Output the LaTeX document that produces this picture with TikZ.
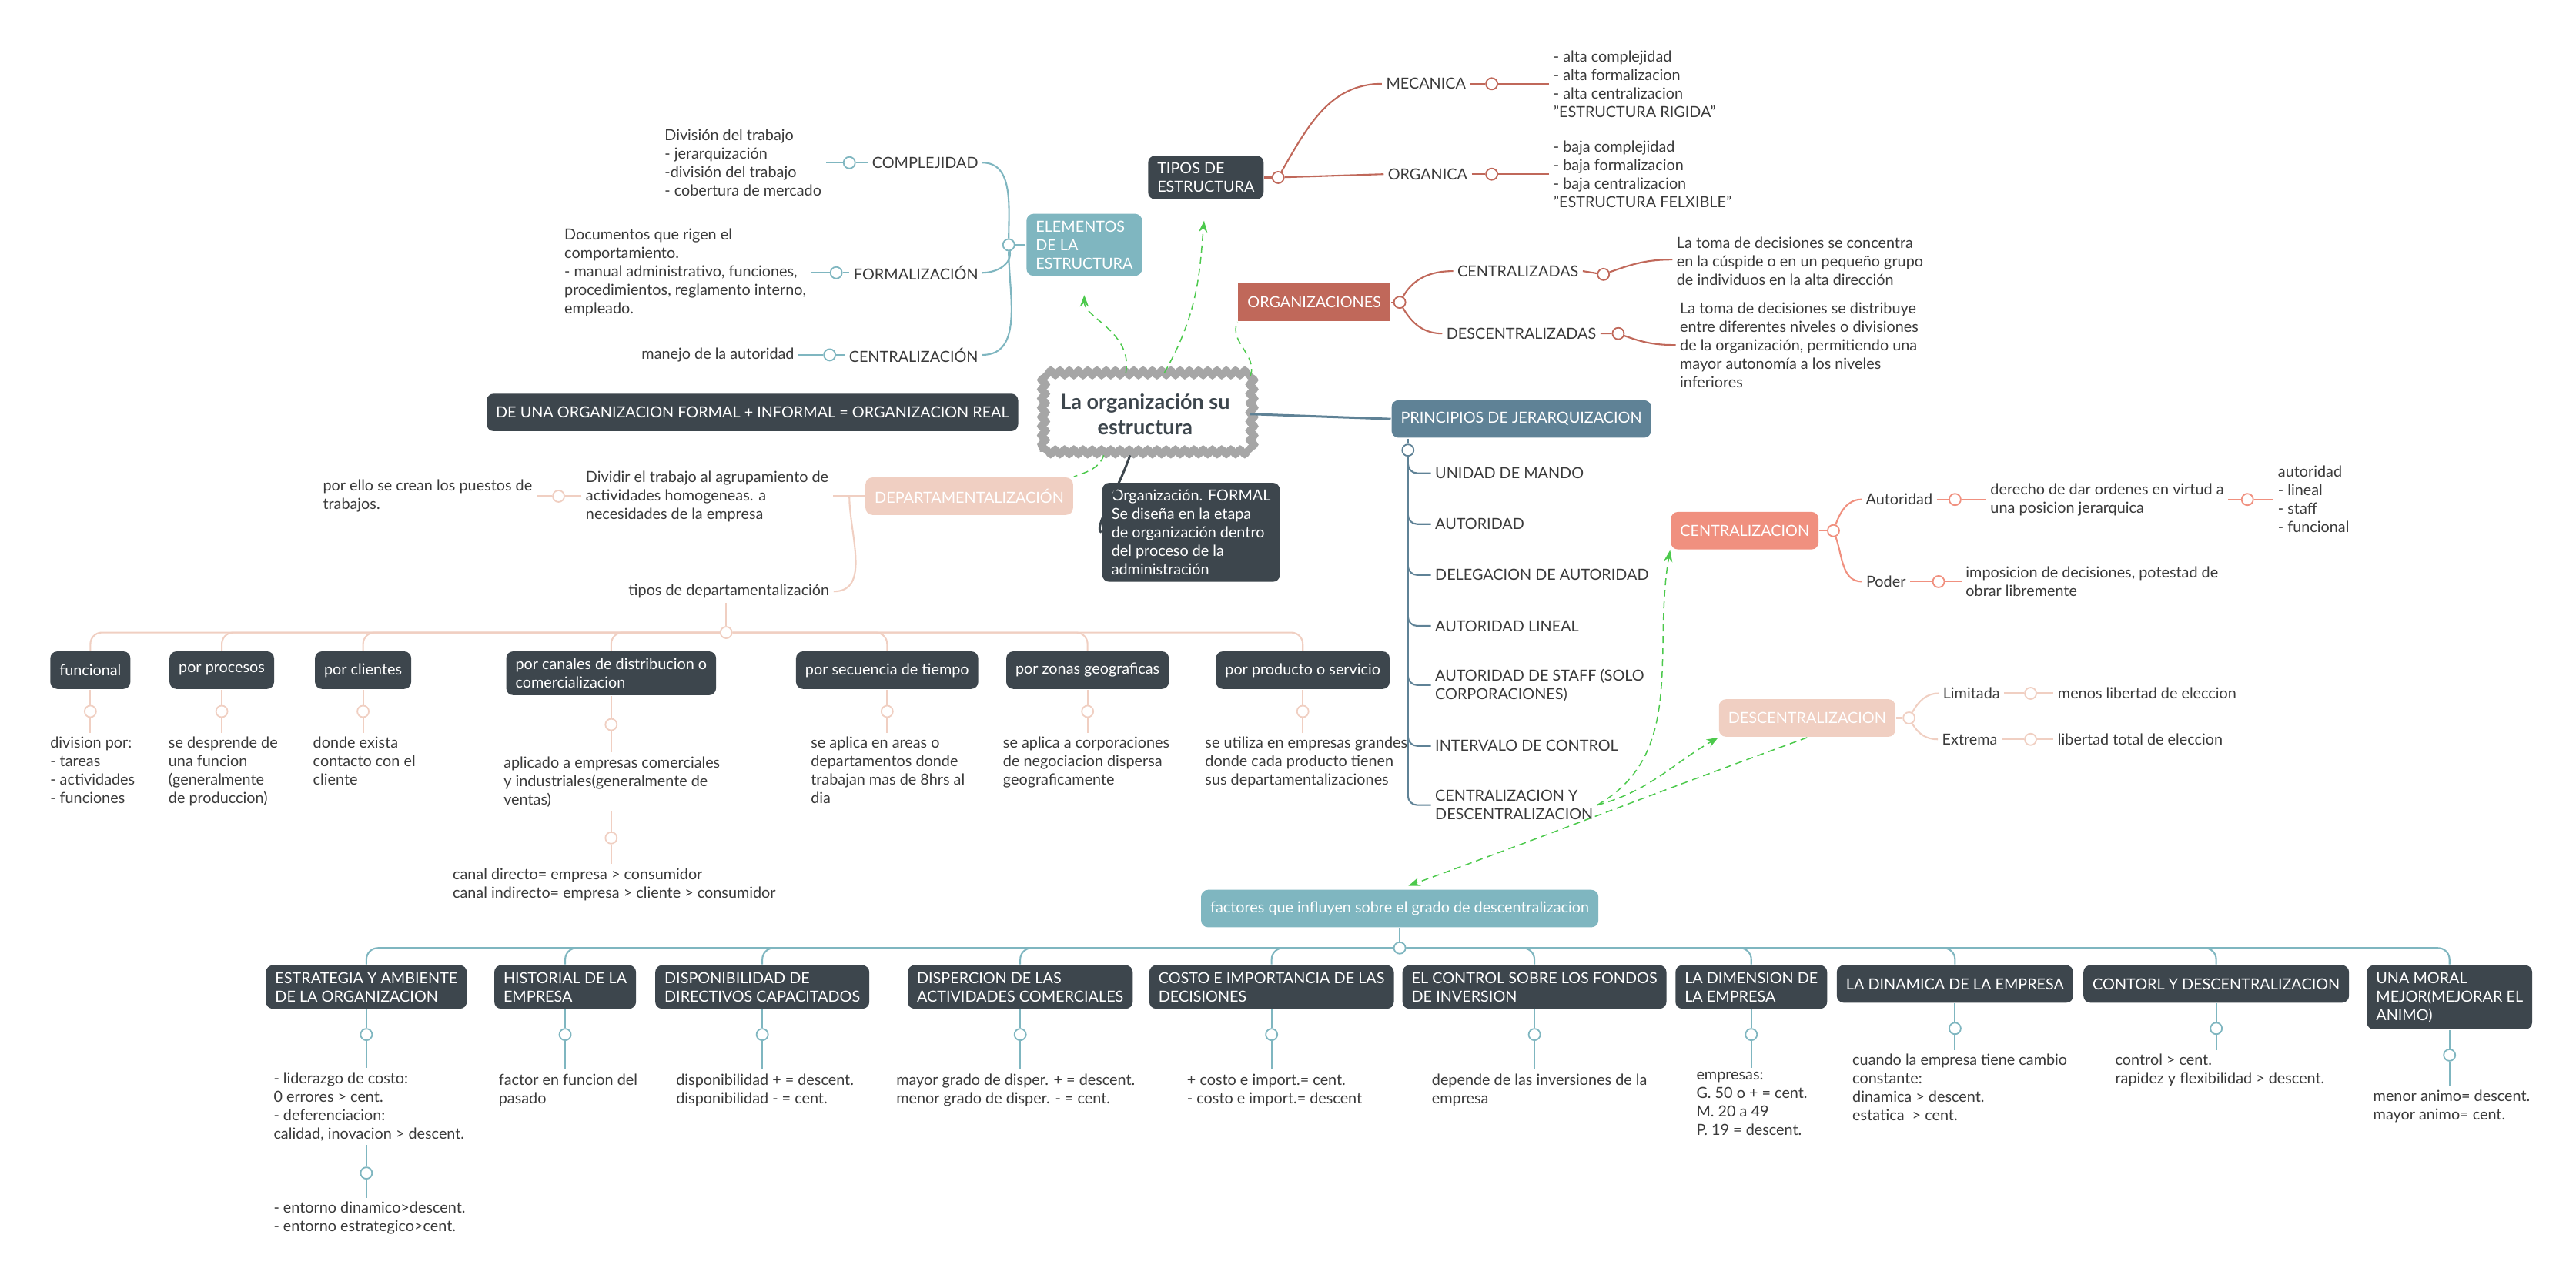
\documentclass[tikz,border=0pt]{standalone}
\usepackage{fontspec}
\setmainfont{Lato}
\usetikzlibrary{positioning,decorations.pathmorphing,arrows.meta}
\definecolor{dark}{HTML}{3D464D}
\definecolor{teal}{HTML}{7FB6C0}
\definecolor{rojo}{HTML}{C0685A}
\definecolor{salmon}{HTML}{F0907F}
\definecolor{light}{HTML}{F0CFC2}
\definecolor{slate}{HTML}{5F8296}
\definecolor{ink}{HTML}{3A3A3A}
\definecolor{relgreen}{HTML}{4CC94C}
\tikzset{
  box/.style={rounded corners=3pt, fill=dark, text=white, align=left,
    inner xsep=4pt, inner ysep=3pt, minimum height=0.57cm},
  lbl/.style={text=ink, align=left, inner sep=1.5pt},
  hub/.style={circle, draw, fill=white, inner sep=0, minimum size=5pt, line width=0.6pt},
  rel/.style={draw=relgreen, line width=0.5pt, densely dashed},
  relarr/.style={rel, -{Stealth[length=5pt]}}
}
\begin{document}
\begin{tikzpicture}[x=0.025cm, y=-0.025cm, font=\fontsize{6.6}{8}\selectfont, line width=0.7pt]
\useasboundingbox (0,0) rectangle (1568,782);

% central topic
\node[draw=gray!70, line width=3pt, decorate, decoration={snake, amplitude=1.1pt, segment length=4pt},
  fill=white, minimum width=3.1cm, minimum height=1.15cm, align=center, text=dark,
  font=\bfseries\fontsize{9}{11}\selectfont] (central) at (697,252) {La organización su\\estructura};

% elementos de la estructura
\node[box, fill=teal] (elem) at (660,149) {ELEMENTOS\\DE LA\\ESTRUCTURA};
\node[hub, draw=teal] (eh) at (614,149) {};
\node[lbl, anchor=east] (comp) at (598,99) {COMPLEJIDAD};
\node[hub, draw=teal] (ch) at (517,99) {};
\node[lbl, anchor=west] (compt) at (402,99) {División del trabajo\\- jerarquización\\-división del trabajo\\- cobertura de mercado};
\node[lbl, anchor=east] (form) at (598,166) {FORMALIZACIÓN};
\node[hub, draw=teal] (fh) at (509,166) {};
\node[lbl, anchor=west] (formt) at (341,166) {Documentos que rigen el\\comportamiento.\\- manual administrativo, funciones,\\procedimientos, reglamento interno,\\empleado.};
\node[lbl, anchor=east] (centr) at (598,216) {CENTRALIZACIÓN};
\node[hub, draw=teal] (zh) at (505,216) {};
\node[lbl, anchor=east] (centrt) at (486,216) {manejo de la autoridad};
\begin{scope}[draw=teal]
  \draw (elem.west) -- (eh);
  \draw (eh) to[out=90, in=0] (comp.east);
  \draw (eh) to[out=-90, in=0] (centr.east);
  \draw (eh) to[out=-80, in=0] (form.east);
  \draw (comp.west) -- (ch) -- (compt.east |- ch);
  \draw (form.west) -- (fh) -- (formt.east |- fh);
  \draw (centr.west) -- (zh) -- (centrt.east);
\end{scope}

% tipos de estructura
\node[box] (tipos) at (734,108) {TIPOS DE\\ESTRUCTURA};
\node[hub, draw=rojo] (th) at (778,108) {};
\node[lbl] (mec) at (868,51) {MECANICA};
\node[hub, draw=rojo] (mh) at (908,51) {};
\node[lbl, anchor=west] (mect) at (943,51) {- alta complejidad\\- alta formalizacion\\- alta centralizacion\\"ESTRUCTURA RIGIDA"};
\node[lbl] (org) at (869,106) {ORGANICA};
\node[hub, draw=rojo] (oh) at (908,106) {};
\node[lbl, anchor=west] (orgt) at (943,106) {- baja complejidad\\- baja formalizacion\\- baja centralizacion\\"ESTRUCTURA FELXIBLE"};
\begin{scope}[draw=rojo]
  \draw (tipos.east) -- (th);
  \draw (th) to[out=60, in=180] (mec.west);
  \draw (th) -- (org.west);
  \draw (mec.east) -- (mh) -- (mect.west);
  \draw (org.east) -- (oh) -- (orgt.west);
\end{scope}

% organizaciones
\node[box, fill=rojo, rounded corners=0pt, minimum width=2.25cm] (orgs) at (800,184) {ORGANIZACIONES};
\node[hub, draw=rojo] (gh) at (852,184) {};
\node[lbl] (cz) at (924,165) {CENTRALIZADAS};
\node[hub, draw=rojo] (czh) at (976,167) {};
\node[lbl, anchor=west] (czt) at (1018,159) {La toma de decisiones se concentra\\en la cúspide o en un pequeño grupo\\de individuos en la alta dirección};
\node[lbl] (dz) at (926,203) {DESCENTRALIZADAS};
\node[hub, draw=rojo] (dzh) at (985,203) {};
\node[lbl, anchor=west] (dzt) at (1020,210) {La toma de decisiones se distribuye\\entre diferentes niveles o divisiones\\de la organización, permitiendo una\\mayor autonomía a los niveles\\inferiores};
\begin{scope}[draw=rojo]
  \draw (orgs.east) -- (gh);
  \draw (gh) to[out=60, in=180] (cz.west);
  \draw (gh) to[out=-60, in=180] (dz.west);
  \draw (cz.east) -- (czh) to[out=20, in=180] (czt.west |- 0,158);
  \draw (dz.east) -- (dzh) to[out=-20, in=180] (dzt.west);
\end{scope}

% principios de jerarquizacion
\node[box, fill=slate] (princ) at (926,255) {PRINCIPIOS DE JERARQUIZACION};
\draw[slate, line width=1pt] (central.east) -- (princ.west);
\node[hub, draw=slate] (ph) at (857,274) {};
\draw[slate] (princ.south -| ph) -- (ph);
\foreach \t/\y [count=\i] in {UNIDAD DE MANDO/288, AUTORIDAD/319, DELEGACION DE AUTORIDAD/350,
    AUTORIDAD LINEAL/381, {AUTORIDAD DE STAFF (SOLO\\CORPORACIONES)}/417,
    INTERVALO DE CONTROL/454, {CENTRALIZACION Y\\DESCENTRALIZACION}/490} {
  \node[lbl, anchor=west] (p\i) at (871,\y) {\t};
  \draw[slate, rounded corners=4pt] (ph) |- (p\i.west);
}

% nota y formula
\node[box, minimum width=2.6cm] (note) at (725,324) {Organización. FORMAL\\Se diseña en la etapa\\de organización dentro\\del proceso de la\\administración};
\draw[dark, line width=1pt] (central.250) .. controls (680,300) and (665,322) .. (note.west);
\node[box] (formula) at (458,251) {DE UNA ORGANIZACION FORMAL + INFORMAL = ORGANIZACION REAL};

% departamentalizacion
\node[box, fill=light] (dept) at (590,302) {DEPARTAMENTALIZACIÓN};
\coordinate (dh) at (517,302);
\node[lbl, anchor=west] (divid) at (354,302) {Dividir el trabajo al agrupamiento de\\actividades homogeneas. a\\necesidades de la empresa};
\node[hub, draw=light] (dvh) at (340,302) {};
\node[lbl, anchor=west] (porello) at (194,302) {por ello se crean los puestos de\\trabajos.};
\node[lbl, anchor=west] (tiposd) at (380,360) {tipos de departamentalización};
\node[hub, draw=light] (bh) at (442,385) {};
\begin{scope}[draw=light]
  \draw (dept.west) -- (dh) -- (divid.east |- dh);
  \draw (dh) to[out=-90, in=0] (tiposd.east);
  \draw (divid.west) -- (dvh) -- (porello.east |- dvh);
  \draw (tiposd.south -| bh) -- (bh);
\end{scope}
\foreach \n/\x/\tx/\t/\d in {
  1/55/28/funcional/{division por:\\- tareas\\- actividades\\- funciones},
  2/135/100/por procesos/{se desprende de\\una funcion\\(generalmente\\de produccion)},
  3/221/188/por clientes/{donde exista\\contacto con el\\cliente},
  5/540/491/por secuencia de tiempo/{se aplica en areas o\\departamentos donde\\trabajan mas de 8hrs al\\dia},
  6/662/608/por zonas geograficas/{se aplica a corporaciones\\de negociacion dispersa\\geograficamente},
  7/793/731/por producto o servicio/{se utiliza en empresas grandes\\donde cada producto tienen\\sus departamentalizaciones}} {
  \node[box, anchor=north] (b\n) at (\x,396) {\t};
  \node[hub, draw=light] (bh\n) at (\x,433) {};
  \node[lbl, anchor=north west] (bt\n) at (\tx,446) {\d};
  \draw[light, rounded corners=5pt] (bh) -| (b\n.north);
  \draw[light] (b\n.south) -- (bh\n) -- (bh\n |- bt\n.north);
}
\node[box, anchor=north] (b4) at (372,396) {por canales de distribucion o\\comercializacion};
\node[hub, draw=light] (bh4) at (372,441) {};
\node[lbl, anchor=north west] (bt4) at (304,458) {aplicado a empresas comerciales\\y industriales(generalmente de\\ventas)};
\node[hub, draw=light] (bh4b) at (372,510) {};
\node[lbl, anchor=north west] (bt4b) at (273,526) {canal directo= empresa > consumidor\\canal indirecto= empresa > cliente > consumidor};
\begin{scope}[draw=light]
  \draw[rounded corners=5pt] (bh) -| (b4.north);
  \draw (b4.south) -- (bh4) -- (bh4 |- bt4.north);
  \draw (bh4 |- bt4.south) -- (bh4b) -- (bh4b |- bt4b.north);
\end{scope}

% centralizacion
\node[box, fill=salmon] (cent) at (1062,323) {CENTRALIZACION};
\node[hub, draw=salmon] (cth) at (1116,323) {};
\node[lbl] (aut) at (1156,304) {Autoridad};
\node[hub, draw=salmon] (ah) at (1190,304) {};
\node[lbl, anchor=west] (autt) at (1209,304) {derecho de dar ordenes en virtud a\\una posicion jerarquica};
\node[hub, draw=salmon] (ah2) at (1368,304) {};
\node[lbl, anchor=west] (autt2) at (1384,304) {autoridad\\- lineal\\- staff\\- funcional};
\node[lbl] (pod) at (1148,354) {Poder};
\node[hub, draw=salmon] (poh) at (1180,354) {};
\node[lbl, anchor=west] (podt) at (1194,354) {imposicion de decisiones, potestad de\\obrar libremente};
\begin{scope}[draw=salmon]
  \draw (cent.east) -- (cth);
  \draw (cth) to[out=70, in=180] (aut.west);
  \draw (cth) to[out=-70, in=180] (pod.west);
  \draw (aut.east) -- (ah) -- (autt.west);
  \draw (autt.east) -- (ah2) -- (autt2.west);
  \draw (pod.east) -- (poh) -- (podt.west);
\end{scope}

% descentralizacion
\node[box, fill=light] (desc) at (1100,437) {DESCENTRALIZACION};
\node[hub, draw=light] (dsh) at (1162,437) {};
\node[lbl] (lim) at (1200,422) {Limitada};
\node[hub, draw=light] (lh) at (1236,422) {};
\node[lbl, anchor=west] (limt) at (1250,422) {menos libertad de eleccion};
\node[lbl] (ext) at (1199,450) {Extrema};
\node[hub, draw=light] (xh) at (1236,450) {};
\node[lbl, anchor=west] (extt) at (1250,450) {libertad total de eleccion};
\begin{scope}[draw=light]
  \draw (desc.east) -- (dsh);
  \draw (dsh) to[out=60, in=180] (lim.west);
  \draw (dsh) to[out=-60, in=180] (ext.west);
  \draw (lim.east) -- (lh) -- (limt.west);
  \draw (ext.east) -- (xh) -- (extt.west);
\end{scope}

% factores
\node[box, fill=teal] (fact) at (852,553) {factores que influyen sobre el grado de descentralizacion};
\node[hub, draw=teal] (fch) at (852,577) {};
\draw[teal] (fact.south) -- (fch);
\foreach \n/\x/\tx/\ty/\t/\d in {
  1/223/164/650/{ESTRATEGIA Y AMBIENTE\\DE LA ORGANIZACION}/{- liderazgo de costo:\\0 errores > cent.\\- deferenciacion:\\calidad, inovacion > descent.},
  2/344/301/651/{HISTORIAL DE LA\\EMPRESA}/{factor en funcion del\\pasado},
  3/464/409/651/{DISPONIBILIDAD DE\\DIRECTIVOS CAPACITADOS}/{disponibilidad + = descent.\\disponibilidad - = cent.},
  4/621/543/651/{DISPERCION DE LAS\\ACTIVIDADES COMERCIALES}/{mayor grado de disper. + = descent.\\menor grado de disper. - = cent.},
  5/774/720/651/{COSTO E IMPORTANCIA DE LAS\\DECISIONES}/{+ costo e import.= cent.\\- costo e import.= descent},
  6/934/869/651/{EL CONTROL SOBRE LOS FONDOS\\DE INVERSION}/{depende de las inversiones de la\\empresa},
  7/1066/1030/650/{LA DIMENSION DE\\LA EMPRESA}/{empresas:\\G. 50 o + = cent.\\M. 20 a 49\\P. 19 = descent.},
  8/1190/1125/639/{LA DINAMICA DE LA EMPRESA}/{cuando la empresa tiene cambio\\constante:\\dinamica > descent.\\estatica \ > cent.},
  9/1349/1285/639/{CONTORL Y DESCENTRALIZACION}/{control > cent.\\rapidez y flexibilidad > descent.},
  10/1491/1442/661/{UNA MORAL\\MEJOR(MEJORAR EL\\ANIMO)}/{menor animo= descent.\\mayor animo= cent.}} {
  \node[box, anchor=north] (f\n) at (\x,587) {\t};
  \node[hub, draw=teal, below=8pt of f\n] (fh\n) {};
  \node[lbl, anchor=north west] (ft\n) at (\tx,\ty) {\d};
  \draw[teal, rounded corners=5pt] (fch) -| (f\n.north);
  \draw[teal] (f\n.south) -- (fh\n) -- (fh\n |- ft\n.north);
}
\node[hub, draw=teal] (fh1b) at (223,714) {};
\node[lbl, anchor=north west] (ft1b) at (164,729) {- entorno dinamico>descent.\\- entorno estrategico>cent.};
\draw[teal] (fh1 |- ft1.south) -- (fh1b) -- (fh1b |- ft1b.north);

% relaciones
\draw[relarr, shorten >=8pt] (central.115) to[out=80, in=-90] (elem.south);
\draw[relarr, shorten >=9pt] (central.65) to[out=60, in=-95] (tipos.south);
\draw[rel] (central.20) to[out=70, in=-115] (orgs.south west);
\draw[rel] (central.225) to[out=-110, in=20] (dept.north east);
\draw[relarr] (p7.east) to[out=30, in=-100] (cent.south west);
\draw[relarr] (p7.east) to[out=15, in=-150] (desc.south west);
\draw[relarr, shorten >=4pt] (desc.south) to[out=-160, in=20] (fact.north);
\end{tikzpicture}
\end{document}
